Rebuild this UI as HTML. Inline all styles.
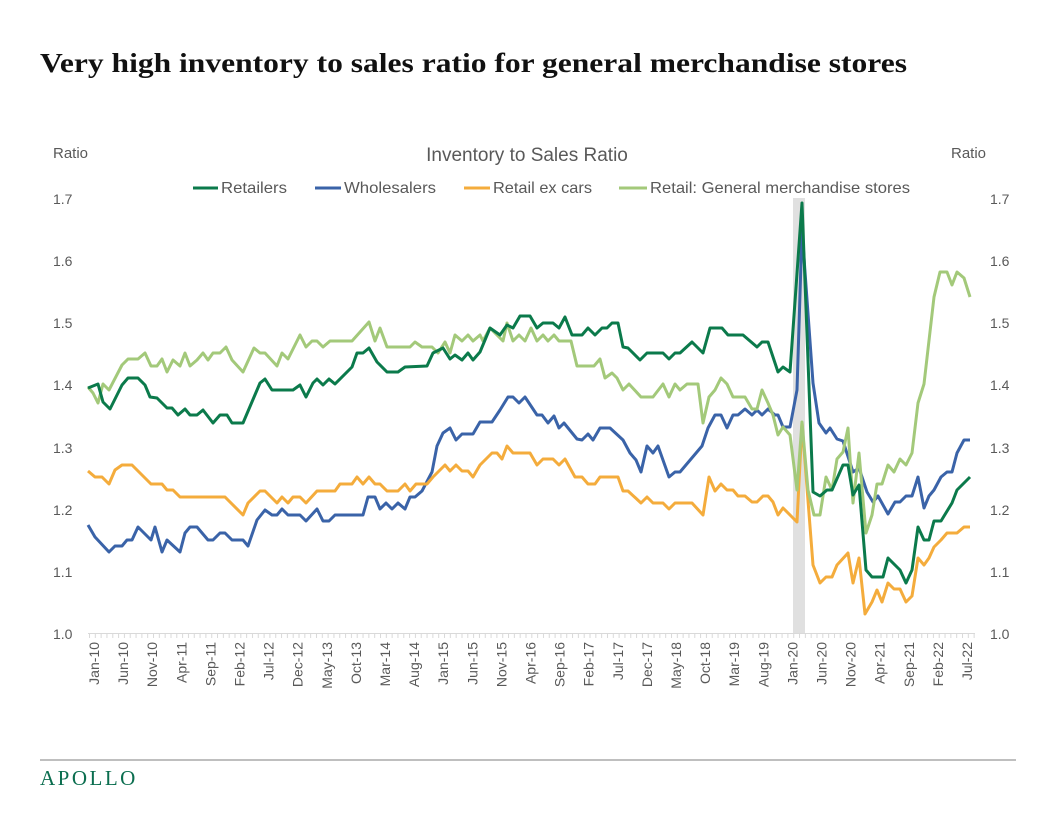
<!DOCTYPE html>
<html><head><meta charset="utf-8"><style>
html,body{margin:0;padding:0;background:#fff;}
svg{display:block;}
</style></head><body>
<svg width="1056" height="816" viewBox="0 0 1056 816" xmlns="http://www.w3.org/2000/svg" font-family="Liberation Sans, sans-serif">
<defs>
<pattern id="tk" x="89" y="633" width="5.82" height="5" patternUnits="userSpaceOnUse">
<line x1="0.5" y1="0" x2="0.5" y2="5" stroke="#d9d9d9" stroke-width="1"/>
</pattern>
</defs>
<text x="40" y="72" font-family="Liberation Serif, serif" font-weight="bold" font-size="27" fill="#111" textLength="867" lengthAdjust="spacingAndGlyphs">Very high inventory to sales ratio for general merchandise stores</text>
<text x="527" y="161" font-size="19" fill="#595959" text-anchor="middle">Inventory to Sales Ratio</text>
<text x="53" y="158" font-size="15" fill="#595959">Ratio</text>
<text x="951" y="158" font-size="15" fill="#595959">Ratio</text>
<g font-size="16" fill="#595959">
<line x1="193" y1="188" x2="218" y2="188" stroke="#0b7a4b" stroke-width="3"/><text x="221" y="193" textLength="66" lengthAdjust="spacingAndGlyphs">Retailers</text>
<line x1="315" y1="188" x2="341" y2="188" stroke="#3a63a8" stroke-width="3"/><text x="344" y="193" textLength="92" lengthAdjust="spacingAndGlyphs">Wholesalers</text>
<line x1="464" y1="188" x2="490" y2="188" stroke="#f4ac3c" stroke-width="3"/><text x="493" y="193" textLength="99" lengthAdjust="spacingAndGlyphs">Retail ex cars</text>
<line x1="619" y1="188" x2="647" y2="188" stroke="#a3c97a" stroke-width="3"/><text x="650" y="193" textLength="260" lengthAdjust="spacingAndGlyphs">Retail: General merchandise stores</text>
</g>
<g font-size="14" fill="#595959">
<text x="53" y="204">1.7</text><text x="53" y="266">1.6</text><text x="53" y="328">1.5</text><text x="53" y="390">1.4</text><text x="53" y="453">1.3</text><text x="53" y="515">1.2</text><text x="53" y="577">1.1</text><text x="53" y="639">1.0</text>
<text x="990" y="204">1.7</text><text x="990" y="266">1.6</text><text x="990" y="328">1.5</text><text x="990" y="390">1.4</text><text x="990" y="453">1.3</text><text x="990" y="515">1.2</text><text x="990" y="577">1.1</text><text x="990" y="639">1.0</text>
</g>
<rect x="793" y="198" width="12" height="435" fill="#e0e0e0"/>
<rect x="89" y="633" width="886" height="5" fill="url(#tk)"/>
<line x1="88" y1="633.5" x2="975" y2="633.5" stroke="#d9d9d9" stroke-width="1"/>
<g font-size="14" fill="#595959" text-anchor="end">
<text transform="translate(99,642) rotate(-90)">Jan-10</text>
<text transform="translate(128.1,642) rotate(-90)">Jun-10</text>
<text transform="translate(157.2,642) rotate(-90)">Nov-10</text>
<text transform="translate(186.3,642) rotate(-90)">Apr-11</text>
<text transform="translate(215.4,642) rotate(-90)">Sep-11</text>
<text transform="translate(244.5,642) rotate(-90)">Feb-12</text>
<text transform="translate(273.6,642) rotate(-90)">Jul-12</text>
<text transform="translate(302.7,642) rotate(-90)">Dec-12</text>
<text transform="translate(331.8,642) rotate(-90)">May-13</text>
<text transform="translate(360.9,642) rotate(-90)">Oct-13</text>
<text transform="translate(390,642) rotate(-90)">Mar-14</text>
<text transform="translate(419.1,642) rotate(-90)">Aug-14</text>
<text transform="translate(448.2,642) rotate(-90)">Jan-15</text>
<text transform="translate(477.3,642) rotate(-90)">Jun-15</text>
<text transform="translate(506.4,642) rotate(-90)">Nov-15</text>
<text transform="translate(535.5,642) rotate(-90)">Apr-16</text>
<text transform="translate(564.6,642) rotate(-90)">Sep-16</text>
<text transform="translate(593.7,642) rotate(-90)">Feb-17</text>
<text transform="translate(622.8,642) rotate(-90)">Jul-17</text>
<text transform="translate(651.9,642) rotate(-90)">Dec-17</text>
<text transform="translate(681,642) rotate(-90)">May-18</text>
<text transform="translate(710.1,642) rotate(-90)">Oct-18</text>
<text transform="translate(739.2,642) rotate(-90)">Mar-19</text>
<text transform="translate(768.3,642) rotate(-90)">Aug-19</text>
<text transform="translate(797.4,642) rotate(-90)">Jan-20</text>
<text transform="translate(826.5,642) rotate(-90)">Jun-20</text>
<text transform="translate(855.6,642) rotate(-90)">Nov-20</text>
<text transform="translate(884.7,642) rotate(-90)">Apr-21</text>
<text transform="translate(913.8,642) rotate(-90)">Sep-21</text>
<text transform="translate(942.9,642) rotate(-90)">Feb-22</text>
<text transform="translate(972,642) rotate(-90)">Jul-22</text>
</g>
<g fill="none" stroke-width="3" stroke-linejoin="round">
<polyline stroke="#3a63a8" points="88,525 95,537 109,552 115,546 122,546 127,540 132,540 138,527 151,540 155,527 162,552 167,540 180,552 185,533 190,527 197,527 208,540 213,540 220,533 225,533 232,540 243,540 248,546 257,520 265,510 272,515 277,515 282,509 288,515 300,515 306,521 317,509 323,521 329,521 335,515 363,515 368,497 375,497 380,509 386,503 392,509 398,503 405,509 410,497 415,497 422,491 432,472 437,446 443,433 450,428 456,440 462,434 473,434 480,422 492,422 500,410 508,397 513,397 519,403 525,397 537,415 542,415 548,423 554,416 559,428 564,423 577,439 582,440 588,434 593,440 600,428 610,428 623,440 630,453 636,460 641,472 647,446 653,453 658,446 669,477 675,472 680,472 702,446 708,428 715,415 721,415 727,428 733,415 738,415 745,409 752,415 757,410 762,415 768,409 775,415 778,415 783,427 790,427 797,390 802,230 813,383 819,423 826,433 830,428 837,439 843,441 853,472 859,468 867,492 873,502 878,496 888,514 895,502 900,502 906,496 912,496 918,477 924,508 929,496 934,490 941,477 947,472 952,472 957,453 964,440 970,440"/>
<polyline stroke="#f4ac3c" points="88,471 95,477 102,477 109,484 115,470 122,465 132,465 151,484 162,484 167,490 173,490 180,497 225,497 243,515 248,503 260,491 265,491 277,503 282,497 288,503 293,497 300,497 306,503 317,491 335,491 340,484 352,484 357,477 363,484 369,477 375,484 380,484 387,491 398,491 405,484 410,491 416,484 427,484 433,477 445,465 450,471 456,465 462,471 468,471 473,477 480,465 492,453 497,453 502,459 507,446 513,453 530,453 537,465 543,459 553,459 559,465 565,459 575,477 582,477 588,484 595,484 600,477 618,477 623,491 628,491 641,503 647,497 653,503 663,503 669,509 675,503 692,503 703,515 709,477 715,491 721,484 727,490 733,490 738,496 745,496 752,502 757,502 763,496 768,496 773,502 778,515 783,508 797,522 802,423 813,565 820,583 826,577 832,577 837,565 848,553 853,583 859,558 865,614 872,602 877,590 882,602 888,583 894,589 900,589 906,602 912,596 918,558 924,565 929,558 934,547 941,540 947,533 957,533 964,527 970,527"/>
<polyline stroke="#a3c97a" points="88,387 93,393 98,403 103,384 109,390 122,365 128,359 138,359 145,353 151,366 157,366 162,359 167,372 173,360 180,366 185,353 190,366 197,360 203,353 208,360 213,353 220,353 226,347 232,360 243,372 254,348 260,353 265,353 277,366 282,353 288,359 300,335 306,347 312,341 317,341 323,347 330,341 352,341 369,322 375,341 380,328 387,347 410,347 415,342 422,347 432,347 438,353 445,342 450,353 455,335 462,341 468,335 473,341 480,335 483,341 490,328 497,335 503,341 507,323 513,341 519,335 525,341 531,328 537,341 543,335 548,341 554,335 559,341 571,341 577,366 594,366 600,359 605,378 612,373 617,378 623,390 629,384 641,397 653,397 663,384 669,397 675,384 680,390 687,384 698,384 703,423 709,397 715,390 721,378 727,384 733,397 745,397 752,409 757,409 762,390 768,403 773,415 778,435 783,427 790,435 797,490 802,422 808,490 814,515 820,515 826,477 832,490 837,459 843,452 848,428 853,503 859,453 866,533 872,515 877,484 882,484 888,465 894,472 900,459 906,465 912,453 918,403 924,384 934,297 940,272 947,272 952,285 957,272 964,278 970,297"/>
<polyline stroke="#0b7a4b" points="88,388 98,384 103,402 110,409 122,385 128,378 138,378 145,385 150,397 157,398 167,408 172,408 178,415 185,409 190,415 197,415 203,410 213,423 220,415 227,415 232,423 243,423 260,383 265,379 272,390 293,390 300,385 306,397 313,383 317,379 323,385 329,379 335,384 352,367 357,353 363,353 369,348 377,362 387,372 398,372 405,367 427,366 433,353 443,348 450,359 455,355 462,360 468,353 473,360 480,352 490,328 500,335 507,325 513,328 520,316 530,316 537,328 543,323 553,323 559,328 565,317 572,335 582,335 588,328 595,335 602,328 607,328 612,323 618,323 623,347 628,348 640,360 647,353 663,353 669,359 675,353 680,353 692,342 703,353 710,328 722,328 728,335 743,335 757,347 762,342 768,342 778,372 783,367 790,372 802,203 813,492 820,496 827,490 832,490 843,465 848,465 853,495 859,485 866,570 872,577 883,577 888,558 900,570 906,583 912,570 918,527 924,540 929,540 934,521 941,521 952,503 957,490 970,477"/>
</g>
<line x1="40" y1="760" x2="1016" y2="760" stroke="#7f7f7f" stroke-width="1"/>
<text x="40" y="785" font-family="Liberation Serif, serif" font-size="21" fill="#0b6e4f" letter-spacing="2.5">APOLLO</text>
</svg>
</body></html>
